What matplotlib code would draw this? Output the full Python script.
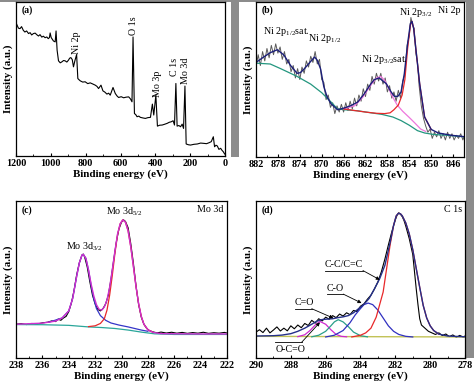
import matplotlib
matplotlib.use('Agg')
import matplotlib.pyplot as plt
from matplotlib.patches import Rectangle

plt.rcParams['font.family'] = ['Liberation Serif', 'DejaVu Serif']
plt.rcParams['mathtext.fontset'] = 'custom'
plt.rcParams['mathtext.rm'] = 'Liberation Serif'
plt.rcParams['mathtext.default'] = 'regular'

# ---- (a) survey
survey_ev = [1196, 1186, 1177, 1168, 1158, 1149, 1139, 1128, 1119, 1110, 1100, 1090, 1081, 1071, 1062, 1052,
             1043, 1033, 1023, 1015, 1008, 1004, 998, 985, 975, 970, 964, 956, 946, 937, 927, 918, 908, 899,
             892, 885, 877, 870, 862, 852, 845, 838, 831, 817, 803, 788, 774, 760, 745, 735, 726, 712, 701,
             690, 678, 668, 659, 643, 630, 620, 611, 596, 582, 568, 553, 543, 534, 528, 520, 512, 505, 495,
             486, 471, 457, 443, 428, 417, 409, 397, 388, 375, 361, 347, 332, 320, 309, 298, 290, 282, 275,
             265, 255, 246, 238, 230, 223, 210, 198, 178, 159, 140, 121, 106, 92, 79, 67, 60, 52, 44, 35,
             25, 18, 10, 2]
survey_int = [85.5, 83.0, 82.7, 84.0, 81.6, 80.5, 81.2, 79.5, 80.1, 78.6, 79.5, 79.8, 78.8, 77.9, 78.8, 77.2,
              77.8, 76.8, 77.3, 76.2, 76.9, 79.9, 76.9, 74.7, 74.1, 81.2, 68.7, 61.8, 60.5, 61.1, 62.0, 61.8,
              61.0, 62.2, 63.5, 63.9, 62.6, 57.9, 61.8, 65.9, 50.3, 49.5, 48.8, 48.0, 48.2, 47.0, 47.5, 46.8,
              46.0, 45.2, 43.8, 46.0, 42.3, 41.5, 40.2, 40.8, 39.5, 44.5, 40.6, 39.0, 38.0, 38.5, 37.8, 38.2,
              38.4, 37.1, 35.2, 77.3, 27.6, 26.8, 25.5, 25.9, 25.1, 24.7, 24.4, 24.9, 25.1, 33.7, 26.6, 39.5,
              19.4, 20.0, 20.1, 20.6, 21.2, 21.9, 22.2, 22.9, 20.1, 47.1, 19.4, 19.8, 19.0, 20.7, 17.9, 45.4,
              7.8, 7.3, 7.1, 7.6, 7.8, 8.4, 8.2, 8.0, 8.6, 9.3, 12.5, 6.0, 7.0, 6.5, 4.3, 5.0, 3.8, 2.8, 1.3]
survey_labels = ['Ni 2p', 'O 1s', 'Mo 3p', 'C 1s', 'Mo 3d']
survey_label_ev = [850, 524, 390, 290, 226]
survey_label_int = [66.5, 78.5, 38.5, 52, 47]

# ---- (b) Ni 2p
ni_ev = [882.0, 881.6, 881.2, 880.8, 880.4, 880.0, 879.6, 879.2, 878.8, 878.4, 878.0, 877.6, 877.2, 876.8,
         876.4, 876.0, 875.6, 875.2, 874.8, 874.4, 874.0, 873.6, 873.2, 872.8, 872.4, 872.0, 871.6, 871.2,
         870.8, 870.4, 870.0, 869.6, 869.2, 868.8, 868.4, 868.0, 867.6, 867.2, 866.8, 866.4, 866.0, 865.6,
         865.2, 864.8, 864.4, 864.0, 863.6, 863.2, 862.8, 862.4, 862.0, 861.6, 861.2, 860.8, 860.4, 860.0,
         859.6, 859.2, 858.8, 858.4, 858.0, 857.6, 857.2, 856.8, 856.4, 856.0, 855.6, 855.2, 854.8, 854.4,
         854.0, 853.7, 853.4, 853.1, 852.8, 852.5, 852.2, 851.8, 851.4, 851.0, 850.6, 850.2, 849.8, 849.4,
         849.0, 848.6, 848.2, 847.8, 847.4, 847.0, 846.6, 846.2, 845.8, 845.4, 845.0, 844.6, 844.2, 844.0]
ni_raw = [58, 66, 59, 68, 62, 70, 64, 72, 66, 73, 67, 71, 63, 68,
          60, 63, 55, 59, 51, 57, 50, 58, 54, 62, 58, 65, 61, 68,
          60, 63, 50, 48, 37, 40, 32, 35, 28, 33, 29, 34, 29, 35,
          30, 36, 31, 38, 33, 40, 36, 44, 39, 47, 43, 52, 47, 54,
          49, 54, 47, 51, 42, 46, 38, 42, 36, 43, 38, 49, 53, 72,
          78, 90, 85, 83, 67, 61, 46, 33, 25, 20, 16, 18, 12, 16,
          13, 17, 12, 15, 11, 16, 12, 15, 11, 14, 12, 15, 11, 13]
ni_env_ev = [881.8, 880.6, 879.4, 878.1, 876.9, 875.7, 874.5, 873.9, 873.2, 872.0, 871.3, 870.8, 870.2, 869.6,
             869.0, 868.3, 867.1, 865.9, 864.7, 863.4, 862.2, 861.0, 860.4, 859.5, 858.2, 857.3, 856.7, 856.1,
             855.5, 854.9, 854.3, 853.8, 853.5, 853.2, 852.7, 852.1, 851.2, 850.0, 848.7, 846.3, 843.9]
ni_env = [61.5, 64.5, 67.3, 69.2, 65.8, 59.1, 54.0, 54.4, 56.8, 61.7, 64.5, 62.4, 56.8, 45.2,
          38.7, 34.4, 30.5, 31.6, 33.1, 35.5, 40.9, 47.3, 49.9, 51.0, 47.3, 41.9, 39.1, 39.1,
          41.9, 53.8, 73.1, 86.0, 87.5, 83.0, 66.7, 47.3, 25.8, 17.8, 15.5, 14.0, 13.1]
ni_main_ev = [866.0, 864.0, 862.0, 860.0, 858.5, 857.5, 856.8, 856.0, 855.3, 854.8, 854.3, 853.8, 853.5,
              853.2, 852.7, 852.1, 851.2, 850.0]
ni_main = [31.0, 30.0, 29.0, 28.2, 28.0, 28.5, 30.5, 33.5, 40.0, 50.0, 70.0, 85.0, 87.5,
           83.0, 66.7, 47.3, 25.8, 17.8]
ni_sat_ev = [866.0, 864.0, 862.5, 861.0, 860.0, 859.2, 858.5, 857.8, 857.0, 856.2, 855.2, 854.0, 853.0,
             851.9, 851.0]
ni_sat = [31.0, 33.0, 38.5, 46.5, 51.0, 52.0, 49.5, 44.5, 38.5, 33.5, 29.5, 25.5, 22.0, 18.0, 16.5]
ni_bg_ev = [881.8, 879.4, 877.5, 874.5, 872.0, 870.0, 868.3, 867.1, 865.9, 863.4, 861.0, 859.0, 857.0,
            855.5, 854.0, 852.5, 851.2, 849.5, 847.0, 843.9]
ni_bg = [60.5, 60.0, 57.0, 52.0, 47.0, 41.5, 35.5, 31.0, 30.5, 29.8, 28.5, 27.5, 25.8, 23.5, 20.5,
         17.0, 15.5, 14.5, 14.0, 13.0]
ni_labels = ['Ni 2p$_{1/2}$sat.', 'Ni 2p$_{1/2}$', 'Ni 2p$_{3/2}$sat.', 'Ni 2p$_{3/2}$']
ni_label_ev = [880.7, 872.5, 862.8, 855.9]
ni_label_int = [77, 72, 59, 89]

# ---- (c) Mo 3d
mo_ev = [238.0, 237.6, 237.2, 236.8, 236.4, 236.0, 235.6, 235.3, 235.0, 234.8, 234.6, 234.4, 234.2, 234.0,
         233.8, 233.6, 233.4, 233.2, 233.0, 232.9, 232.8, 232.6, 232.4, 232.2, 232.0, 231.8, 231.6, 231.4,
         231.2, 231.0, 230.8, 230.6, 230.4, 230.2, 230.0, 229.85, 229.7, 229.5, 229.3, 229.1, 228.9, 228.7,
         228.5, 228.3, 228.1, 227.9, 227.6, 227.3, 227.0, 226.6, 226.2, 225.8, 225.4, 225.0, 224.6, 224.2,
         223.8, 223.4, 223.0, 222.6, 222.2, 222.0]
mo_raw = [21.5, 21.9, 21.3, 22.0, 21.6, 22.4, 22.8, 23.6, 23.2, 24.8, 24.0, 25.5, 26.5, 29.5,
          35.0, 43.0, 53.0, 60.5, 65.5, 66.2, 64.5, 58.0, 48.5, 40.0, 34.5, 31.0, 30.0, 31.5,
          34.5, 40.0, 50.0, 62.0, 73.5, 82.0, 86.5, 88.0, 87.0, 83.0, 73.0, 60.5, 46.0, 34.0,
          26.0, 21.5, 19.0, 17.5, 16.6, 16.0, 16.5, 15.9, 16.4, 15.8, 16.3, 15.7, 16.2, 15.8,
          16.4, 15.7, 16.1, 15.8, 16.3, 15.9]
mo_env_ev = [238.0, 236.0, 235.0, 234.5, 234.0, 233.7, 233.4, 233.2, 233.0, 232.9, 232.7, 232.5, 232.3,
             232.1, 231.9, 231.7, 231.5, 231.3, 231.1, 230.9, 230.7, 230.5, 230.3, 230.1, 229.9, 229.7,
             229.5, 229.3, 229.1, 228.9, 228.7, 228.5, 228.3, 228.0, 227.6, 227.0, 224.0, 222.0]
mo_env = [21.5, 22.2, 23.5, 25.5, 30.0, 38.0, 52.0, 60.5, 65.5, 66.0, 63.5, 56.0, 47.0,
          39.5, 34.0, 31.0, 30.5, 32.5, 37.0, 45.0, 56.0, 68.0, 79.0, 85.5, 88.0, 86.5,
          81.0, 71.0, 58.5, 45.5, 34.5, 26.5, 21.5, 18.0, 16.3, 15.5, 15.3, 15.3]
mo_32_ev = [235.5, 234.5, 234.0, 233.7, 233.4, 233.2, 233.0, 232.9, 232.7, 232.5, 232.3, 232.1, 231.9,
            231.6, 231.2, 230.8, 230.2, 229.5, 229.0, 228.5, 228.0]
mo_32 = [22.8, 25.5, 30.0, 38.0, 52.0, 60.5, 65.5, 66.0, 63.5, 56.0, 46.0, 37.5, 31.5,
         27.0, 24.0, 22.3, 21.0, 19.8, 18.8, 17.8, 17.0]
mo_52_ev = [232.5, 232.0, 231.6, 231.3, 231.1, 230.9, 230.7, 230.5, 230.3, 230.1, 229.9, 229.7, 229.5,
            229.3, 229.1, 228.9, 228.7, 228.5, 228.3, 228.0, 227.6]
mo_52 = [20.0, 20.5, 22.0, 25.0, 30.5, 40.0, 52.5, 66.5, 78.5, 85.5, 88.0, 86.5, 81.0,
         71.0, 58.5, 45.5, 34.5, 26.5, 21.5, 18.0, 16.3]
mo_bg_ev = [238.0, 236.0, 234.0, 232.5, 231.5, 230.5, 229.5, 228.5, 227.5, 226.0, 222.0]
mo_bg = [21.3, 21.2, 20.8, 19.8, 19.4, 18.8, 17.8, 16.5, 15.4, 15.0, 15.0]
mo_labels = ['Mo 3d$_{3/2}$', 'Mo 3d$_{5/2}$']
mo_label_ev = [234.2, 231.2]
mo_label_int = [67, 89]

# ---- (d) C 1s
c_ev = [290.0, 289.8, 289.6, 289.4, 289.2, 289.0, 288.8, 288.6, 288.4, 288.2, 288.0, 287.8, 287.6, 287.4,
        287.2, 287.0, 286.8, 286.6, 286.4, 286.2, 286.0, 285.8, 285.6, 285.4, 285.2, 285.0, 284.8, 284.6,
        284.4, 284.2, 284.0, 283.8, 283.6, 283.4, 283.2, 283.0, 282.8, 282.6, 282.4, 282.2, 282.0, 281.9,
        281.8, 281.7, 281.6, 281.5, 281.4, 281.3, 281.2, 281.0, 280.9, 280.8, 280.7, 280.6, 280.5, 280.3,
        280.1, 279.9, 279.7, 279.5, 279.3, 279.1, 278.9, 278.7, 278.5, 278.3, 278.1, 278.0]
c_raw = [16.5, 18.0, 16.2, 19.0, 16.0, 17.8, 19.8, 17.2, 19.0, 17.3, 20.5, 18.6, 21.0, 19.3,
         22.0, 20.7, 24.0, 22.2, 25.0, 23.6, 26.0, 24.7, 27.0, 25.7, 28.0, 26.7, 28.8, 27.6,
         30.3, 29.6, 33.0, 34.5, 37.5, 40.0, 44.0, 48.5, 55.0, 63.0, 72.0, 80.5, 88.0, 91.0,
         92.5, 91.5, 90.0, 87.5, 84.0, 80.0, 76.0, 66.0, 55.0, 44.0, 34.0, 25.0, 21.0, 19.0,
         17.0, 16.0, 15.0, 16.0, 14.3, 15.3, 13.6, 14.7, 13.2, 14.4, 13.3, 14.0]
c_env_ev = [290.0, 289.0, 288.5, 288.0, 287.6, 287.2, 286.8, 286.5, 286.2, 285.9, 285.6, 285.3, 285.0,
            284.7, 284.4, 284.1, 283.8, 283.5, 283.2, 282.9, 282.6, 282.3, 282.1, 281.95, 281.82, 281.7,
            281.6, 281.4, 281.2, 281.0, 280.8, 280.6, 280.4, 280.2, 280.0, 279.8, 279.5, 279.0, 278.0]
c_env = [14.0, 14.2, 14.6, 15.5, 17.0, 19.0, 21.5, 23.5, 24.5, 24.8, 25.0, 25.7, 26.2,
         27.0, 28.8, 31.5, 34.2, 38.0, 44.0, 50.5, 59.0, 73.5, 84.5, 90.5, 92.2, 91.8,
         90.5, 86.0, 79.0, 69.0, 57.0, 45.0, 33.5, 25.5, 20.5, 17.5, 15.2, 14.0, 13.5]
c_cc_ev = [284.5, 284.0, 283.7, 283.4, 283.1, 282.9, 282.7, 282.5, 282.3, 282.1, 281.95, 281.82, 281.7,
           281.6, 281.4, 281.2, 281.0, 280.8, 280.6, 280.4, 280.2, 280.0, 279.8, 279.5]
c_cc = [13.4, 14.5, 16.0, 19.0, 26.0, 34.0, 42.0, 57.0, 72.0, 84.5, 90.5, 92.2, 91.8,
        90.5, 86.0, 79.0, 69.0, 57.0, 45.0, 33.5, 25.5, 20.5, 17.5, 15.2]
c_co_ev = [286.0, 285.5, 285.0, 284.6, 284.3, 284.0, 283.8, 283.56, 283.3, 283.0, 282.7, 282.4, 282.1,
           281.8, 281.4, 281.0]
c_co = [13.4, 14.5, 17.5, 22.5, 27.5, 31.5, 34.0, 35.0, 34.0, 30.5, 25.5, 20.5, 17.0, 15.0, 13.8, 13.4]
c_c_o_ev = [286.8, 286.4, 286.0, 285.7, 285.5, 285.28, 285.0, 284.7, 284.4, 284.0, 283.6]
c_c_o = [13.5, 14.5, 17.0, 20.5, 23.0, 24.4, 23.0, 20.0, 16.5, 14.2, 13.5]
c_occo_ev = [287.6, 287.2, 286.9, 286.6, 286.33, 286.0, 285.7, 285.4, 285.1, 284.8]
c_occo = [13.6, 14.8, 17.5, 21.0, 23.3, 21.5, 18.0, 15.0, 13.8, 13.5]
c_bg_ev = [290.0, 278.0]
c_bg = [13.8, 13.4]
c_labels = ['C-C/C=C', 'C-O', 'C=O', 'O-C=O']
c_label_ev = [286.04, 285.95, 287.76, 288.9]      # left end of text / underline
c_label_end = [283.86, 284.99, 286.80, 287.38]    # right end of underline
c_label_int = [55.7, 40.7, 31.4, 10.0]            # underline level
c_arrow_ev = [282.89, 283.94, 285.56, 286.33]
c_arrow_int = [49.8, 35.0, 25.4, 22.7]

W, H = 474, 391
fig = plt.figure(figsize=(W / 100, H / 100), dpi=100)

# gray frame bits of the original figure (drawn under the axes)
for x, y, w, h in [(0, 0, W, 2), (466, 0, 8, 358), (231, 0, 8, 157)]:
    fig.add_artist(Rectangle((x / W, 1 - (y + h) / H), w / W, h / H, transform=fig.transFigure,
                             color='#8c8c8c', lw=0, zorder=-5))

def add_ax(l, t, r, b):
    return fig.add_axes([l / W, 1 - b / H, (r - l) / W, (b - t) / H])

axa = add_ax(16, 2, 225, 156)
axb = add_ax(256, 2, 464, 157)
axc = add_ax(16, 201, 227, 358)
axd = add_ax(256, 201, 465, 358)

lab = dict(fontsize=7.2)
for ax in [axa, axb, axc, axd]:
    ax.set_yticks([])
    ax.tick_params(axis='x', direction='in', length=2.5, width=0.8, labelsize=7.3, pad=2, top=False)
    ax.tick_params(axis='x', which='minor', direction='in', length=1.5, width=0.6, top=False)
    for s in ax.spines.values():
        s.set_linewidth(0.9)
    ax.set_ylabel('Intensity (a.u.)', fontsize=7.8, fontweight='bold', labelpad=2)
    ax.set_xlabel('Binding energy (eV)', fontsize=7.9, fontweight='bold', labelpad=1)
    ax.set_ylim(0, 100)

# (a)
axa.plot(survey_ev, survey_int, color='black', lw=0.8)
axa.set_xlim(1200, 0)
axa.set_xticks(range(1200, -1, -200))
axa.set_xticks(range(1100, 0, -200), minor=True)
for t, x, y in zip(survey_labels, survey_label_ev, survey_label_int):
    axa.text(x, y, t, rotation=90, ha='center', va='bottom', **lab)
axa.text(0.025, 0.975, '(a)', transform=axa.transAxes, ha='left', va='top', fontsize=7, fontweight='bold')

# (b)
axb.plot(ni_ev, ni_raw, color='#5a5a5a', lw=0.7)
axb.plot(ni_bg_ev, ni_bg, color='#23967f', lw=0.9)
axb.plot(ni_sat_ev, ni_sat, color='#ee77dd', lw=0.9)
axb.plot(ni_main_ev, ni_main, color='#e8282a', lw=0.9)
axb.plot(ni_env_ev, ni_env, color='#1c1f7a', lw=1.0)
axb.set_xlim(882, 844)
axb.set_xticks(range(882, 845, -4))
axb.set_xticks(range(880, 843, -4), minor=True)
for t, x, y in zip(ni_labels, ni_label_ev, ni_label_int):
    axb.text(x, y, t, ha='left', va='bottom', **lab)
axb.text(0.025, 0.975, '(b)', transform=axb.transAxes, ha='left', va='top', fontsize=7, fontweight='bold')
axb.text(0.985, 0.975, 'Ni 2p', transform=axb.transAxes, ha='right', va='top', **lab)

# (c)
axc.plot(mo_ev, mo_raw, color='black', lw=0.8)
axc.plot(mo_bg_ev, mo_bg, color='#2aa69a', lw=0.9)
axc.plot(mo_32_ev, mo_32, color='#3535c8', lw=0.9)
axc.plot(mo_52_ev, mo_52, color='#e8282a', lw=0.9)
axc.plot(mo_env_ev, mo_env, color='#d030d0', lw=1.0)
axc.set_xlim(238, 222)
axc.set_xticks(range(238, 221, -2))
axc.set_xticks(range(237, 222, -2), minor=True)
for t, x, y in zip(mo_labels, mo_label_ev, mo_label_int):
    axc.text(x, y, t, ha='left', va='bottom', **lab)
axc.text(0.025, 0.975, '(c)', transform=axc.transAxes, ha='left', va='top', fontsize=7, fontweight='bold')
axc.text(0.985, 0.975, 'Mo 3d', transform=axc.transAxes, ha='right', va='top', **lab)

# (d)
axd.plot(c_ev, c_raw, color='black', lw=0.8)
axd.plot(c_bg_ev, c_bg, color='#c2c257', lw=1.0)
axd.plot(c_occo_ev, c_occo, color='#d028d0', lw=0.9)
axd.plot(c_c_o_ev, c_c_o, color='#2a9f8a', lw=0.9)
axd.plot(c_co_ev, c_co, color='#3030c0', lw=0.9)
axd.plot(c_cc_ev, c_cc, color='#e8282a', lw=0.9)
axd.plot(c_env_ev, c_env, color='#25308a', lw=1.0)
axd.set_xlim(290, 278)
axd.set_xticks(range(290, 277, -2))
axd.set_xticks(range(289, 278, -2), minor=True)
for i, t in enumerate(c_labels):
    x0, x1, y = c_label_ev[i], c_label_end[i], c_label_int[i]
    axd.plot([x0, x1], [y, y], color='black', lw=0.6)
    axd.annotate('', xy=(c_arrow_ev[i], c_arrow_int[i]), xytext=(x1, y),
                 arrowprops=dict(arrowstyle='-|>', color='black', lw=0.6, mutation_scale=5,
                                 shrinkA=0, shrinkB=0))
    if t == 'O-C=O':
        axd.text(x0, y - 1.5, t, ha='left', va='top', **lab)
    else:
        axd.text(x0, y + 1.0, t, ha='left', va='bottom', **lab)
axd.text(0.025, 0.975, '(d)', transform=axd.transAxes, ha='left', va='top', fontsize=7, fontweight='bold')
axd.text(0.985, 0.975, 'C 1s', transform=axd.transAxes, ha='right', va='top', **lab)

for ax in [axa, axb, axc, axd]:
    for lbl in ax.get_xticklabels():
        lbl.set_fontweight('bold')

fig.savefig('out.png', dpi=100)
